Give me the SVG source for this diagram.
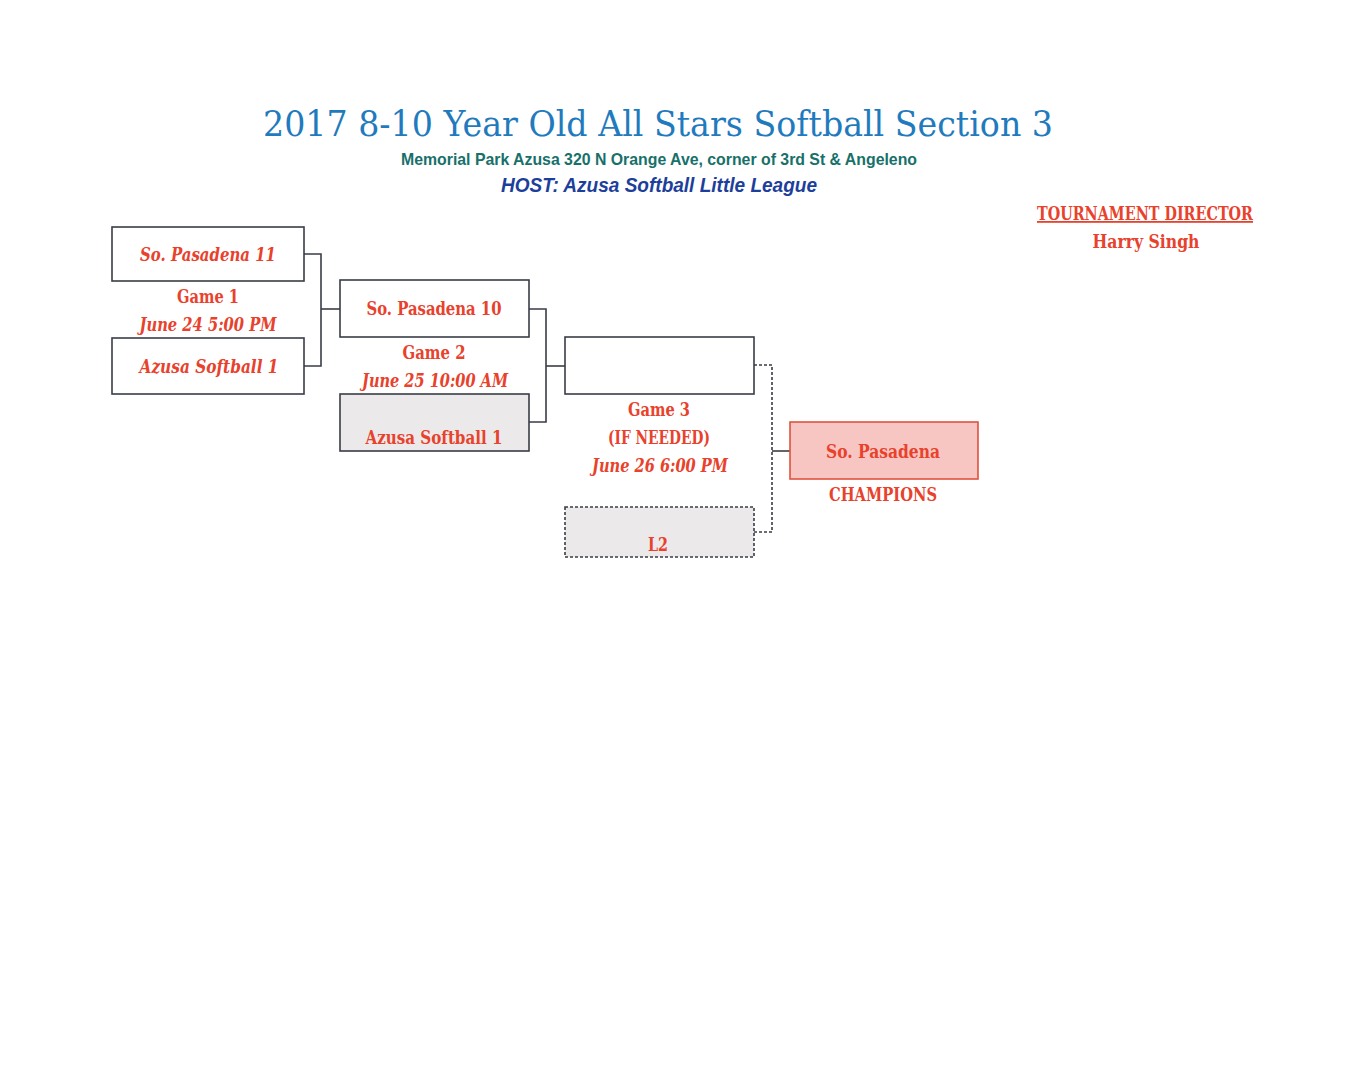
<svg xmlns="http://www.w3.org/2000/svg" width="1361" height="1089" viewBox="0 0 1361 1089">
<style>
.box{fill:#ffffff;stroke:#3a3d45;stroke-width:1.6}
.grey{fill:#ebe9ea;stroke:#3a3d45;stroke-width:1.6}
.dash{fill:#ebe9ea;stroke:#3a3d45;stroke-width:1.6;stroke-dasharray:3 2}
.champ{fill:#f8c6c2;stroke:#e0523f;stroke-width:1.6}
.ln{fill:none;stroke:#3a3d45;stroke-width:1.6}
.dl{fill:none;stroke:#3a3d45;stroke-width:1.6;stroke-dasharray:3 2}
.t{font-family:"DejaVu Serif","Liberation Serif",serif;font-weight:bold;font-size:18px;fill:#e8412c;text-anchor:middle}
.i{font-style:italic}
</style>
<rect width="1361" height="1089" fill="#ffffff"/>
<text x="658" y="136" font-family="DejaVu Serif, Liberation Serif, serif" font-size="36" fill="#1f7bbd" text-anchor="middle" textLength="790" lengthAdjust="spacingAndGlyphs">2017 8-10 Year Old All Stars Softball Section 3</text>
<text x="659" y="165" font-family="Liberation Sans, Arial, sans-serif" font-weight="bold" font-size="17" fill="#17706a" text-anchor="middle" textLength="516" lengthAdjust="spacingAndGlyphs">Memorial Park Azusa 320 N Orange Ave, corner of 3rd St &amp; Angeleno</text>
<text x="659" y="192" font-family="Liberation Sans, Arial, sans-serif" font-weight="bold" font-style="italic" font-size="21" fill="#1d3f9b" text-anchor="middle" textLength="316" lengthAdjust="spacingAndGlyphs">HOST: Azusa Softball Little League</text>
<g id="director">
<text class="t" x="1145" y="220" text-decoration="underline" textLength="216" lengthAdjust="spacingAndGlyphs">TOURNAMENT DIRECTOR</text>
<text class="t" x="1146" y="248" textLength="107" lengthAdjust="spacingAndGlyphs">Harry Singh</text>
</g>
<g id="connectors">
<polyline class="ln" points="304,254 321,254 321,366 304,366"/>
<line class="ln" x1="321" y1="309" x2="340" y2="309"/>
<polyline class="ln" points="529,309 546,309 546,422 529,422"/>
<line class="ln" x1="546" y1="366" x2="565" y2="366"/>
<polyline class="dl" points="754,365 772,365 772,532 754,532"/>
<line class="ln" x1="772" y1="451" x2="790" y2="451"/>
</g>
<g id="n-sopas11">
<rect class="box" x="112" y="227" width="192" height="54"/>
<text class="t i" x="208" y="261" textLength="136" lengthAdjust="spacingAndGlyphs">So. Pasadena 11</text>
</g>
<g id="game1">
<text class="t" x="208" y="303" textLength="62" lengthAdjust="spacingAndGlyphs">Game 1</text>
<text class="t i" x="208" y="331" textLength="137" lengthAdjust="spacingAndGlyphs">June 24 5:00 PM</text>
</g>
<g id="n-azusa1">
<rect class="box" x="112" y="338" width="192" height="56"/>
<text class="t i" x="209" y="373" textLength="139" lengthAdjust="spacingAndGlyphs">Azusa Softball 1</text>
</g>
<g id="n-sopas10">
<rect class="box" x="340" y="280" width="189" height="57"/>
<text class="t" x="434" y="315" textLength="135" lengthAdjust="spacingAndGlyphs">So. Pasadena 10</text>
</g>
<g id="game2">
<text class="t" x="434" y="359" textLength="63" lengthAdjust="spacingAndGlyphs">Game 2</text>
<text class="t i" x="435" y="387" textLength="146" lengthAdjust="spacingAndGlyphs">June 25 10:00 AM</text>
</g>
<g id="n-azusa1b">
<rect class="grey" x="340" y="394" width="189" height="57"/>
<text class="t" x="434" y="444" textLength="137" lengthAdjust="spacingAndGlyphs">Azusa Softball 1</text>
</g>
<g id="n-game3">
<rect class="box" x="565" y="337" width="189" height="57"/>
</g>
<g id="game3">
<text class="t" x="659" y="416" textLength="62" lengthAdjust="spacingAndGlyphs">Game 3</text>
<text class="t" x="659" y="444" textLength="102" lengthAdjust="spacingAndGlyphs">(IF NEEDED)</text>
<text class="t i" x="660" y="472" textLength="136" lengthAdjust="spacingAndGlyphs">June 26 6:00 PM</text>
</g>
<g id="n-l2">
<rect class="dash" x="565" y="507" width="189" height="50"/>
<text class="t" x="658" y="551" textLength="20" lengthAdjust="spacingAndGlyphs">L2</text>
</g>
<g id="n-champ">
<rect class="champ" x="790" y="422" width="188" height="57"/>
<text class="t" x="883" y="458" textLength="114" lengthAdjust="spacingAndGlyphs">So. Pasadena</text>
<text class="t" x="883" y="501" textLength="108" lengthAdjust="spacingAndGlyphs">CHAMPIONS</text>
</g>
</svg>
